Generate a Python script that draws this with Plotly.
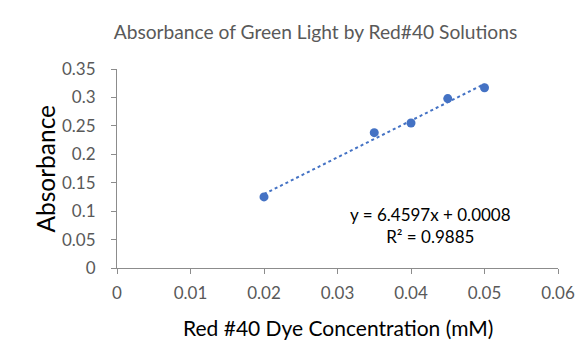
import plotly.graph_objects as go

conc = [0.02, 0.035, 0.04, 0.045, 0.05]
absorb = [0.125, 0.238, 0.255, 0.298, 0.317]
slope = 6.4597
intercept = 0.0008
r2 = 0.9885
x_ticks = [0, 0.01, 0.02, 0.03, 0.04, 0.05, 0.06]
y_ticks = [0, 0.05, 0.1, 0.15, 0.2, 0.25, 0.3, 0.35]

blue = "#4472C4"
gray = "#595959"
axis_col = "#8c8c8c"
font = "Lato"

trend_x = [min(conc), max(conc)]
trend_y = [slope * x + intercept for x in trend_x]

fig = go.Figure()
fig.add_trace(go.Scatter(x=trend_x, y=trend_y, mode="lines",
                         line=dict(color=blue, width=2, dash="dot"),
                         showlegend=False, hoverinfo="skip"))
fig.add_trace(go.Scatter(x=conc, y=absorb, mode="markers",
                         marker=dict(color=blue, size=9),
                         showlegend=False))

# trendline equation
fig.add_annotation(x=0.0427, y=0.074, xref="x", yref="y",
                   text=f"y = {slope}x + {intercept}<br>R² = {r2}",
                   showarrow=False, align="center",
                   font=dict(family=font, size=17, color="black"))
# axis titles
fig.add_annotation(x=-0.163, y=0.5, xref="paper", yref="paper",
                   text="Absorbance", textangle=-90, showarrow=False,
                   xanchor="center", yanchor="middle",
                   font=dict(family=font, size=24.5, color="black"))
fig.add_annotation(x=0.5, y=-0.2965, xref="paper", yref="paper",
                   text="Red #40 Dye Concentration (mM)", showarrow=False,
                   xanchor="center", yanchor="middle",
                   font=dict(family=font, size=21, color="black"))

fig.update_layout(
    width=586, height=362,
    margin=dict(l=109, r=36, t=61, b=102, autoexpand=False),
    paper_bgcolor="white", plot_bgcolor="white",
    title=dict(text="Absorbance of Green Light by Red#40 Solutions",
               x=0.5247, xanchor="center", y=0.934, yanchor="middle",
               font=dict(family=font, size=19.2, color=gray)),
    font=dict(family=font),
)
fig.update_xaxes(range=[0, 0.06], tickvals=x_ticks, ticktext=[f"{v:g}" for v in x_ticks],
                 showgrid=False, zeroline=False, showline=True, linecolor=axis_col,
                 ticks="outside", ticklen=5, tickcolor=axis_col, automargin=False,
                 ticklabelstandoff=5,
                 tickfont=dict(family=font, size=17, color=gray))
fig.update_yaxes(range=[0, 0.35], tickvals=y_ticks, ticktext=[f"{v:g}" for v in y_ticks],
                 showgrid=False, zeroline=False, showline=True, linecolor=axis_col,
                 ticks="outside", ticklen=5, tickcolor=axis_col, automargin=False,
                 ticklabelstandoff=12,
                 tickfont=dict(family=font, size=17, color=gray))

fig.write_html("out.html")
